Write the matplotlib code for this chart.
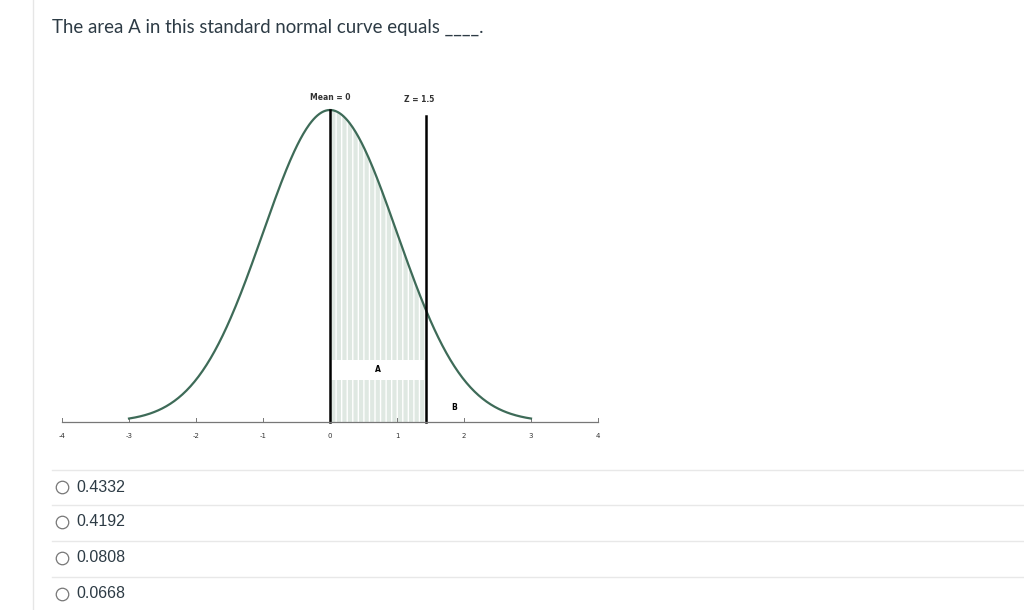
import numpy as np
import matplotlib.pyplot as plt
from matplotlib.patches import Rectangle

title = "The area A in this standard normal curve equals ____."
options = ["0.4332", "0.4192", "0.0808", "0.0668"]
tick_vals = [-4, -3, -2, -1, 0, 1, 2, 3, 4]
mean = 0.0
z_line = 1.43          # where the z = 1.5 line is drawn in the picture
curve_lo, curve_hi = -3.0, 3.0

fig = plt.figure(figsize=(10.24, 6.1), dpi=100)
W, H = 1024, 610

def fx(px): return px / W
def fy(py): return 1 - py / H

# page decoration
fig.add_artist(plt.Line2D([fx(33), fx(33)], [0, 1], color="#e6e6e6", lw=1))
fig.text(fx(52), fy(27), title, fontsize=13.4, family="Lato", color="#2d3b45", va="center")

opt_y = [487, 522, 558, 594]
for lab, y in zip(options, opt_y):
    fig.add_artist(plt.Line2D([fx(52), 1], [fy(y - 17), fy(y - 17)], color="#e8e8e8", lw=1))
    fig.add_artist(plt.Line2D([fx(62)], [fy(y)], marker="o", ms=9, mfc="white",
                              mec="#777777", mew=0.9, ls="none"))
    fig.text(fx(76), fy(y), lab, fontsize=11.5, family="Liberation Sans", color="#2d3b45", va="center")

# chart axes: x -4 at px 62, 4 at px 598; y 0 at px 422, peak(1) at px 110
left, right = fx(62), fx(598)
bottom = fy(422)
ax = fig.add_axes([left, bottom, right - left, 340 / H])
ax.set_xlim(-4, 4)
ax.set_ylim(0, 340 / 312)
ax.axis("off")

x = np.linspace(curve_lo, curve_hi, 400)
y = np.exp(-0.5 * (x - mean) ** 2)
ax.plot(x, y, color="#3e6b58", lw=1.6, zorder=3)

xs = np.linspace(mean, z_line, 200)
ys = np.exp(-0.5 * (xs - mean) ** 2)
ax.fill_between(xs, 0, ys, facecolor="#dfe8e2", edgecolor="#ffffff", hatch="|||", lw=0, zorder=1)
ax.add_patch(Rectangle((mean, 0.135), z_line - mean - 0.03, 0.065, fc="white", ec="none", zorder=2))
ax.text((mean + z_line) / 2, 0.167, "A", fontsize=5.5, fontweight="bold", ha="center", va="center", zorder=4)
ax.text(1.85, 0.045, "B", fontsize=5.5, fontweight="bold", ha="center", va="center")

ax.plot([mean, mean], [0, 1.0], color="black", lw=1.8, zorder=4, clip_on=False)
ax.plot([z_line, z_line], [0, 0.98], color="black", lw=1.8, zorder=4, clip_on=False)
ax.text(mean, 1.025, "Mean = 0", fontsize=5.5, fontweight="bold", ha="center", va="bottom", color="#333333")
ax.text(z_line - 0.1, 1.02, "Z = 1.5", fontsize=5.5, fontweight="bold", ha="center", va="bottom", color="#333333")

ax.plot([-4, 4], [0, 0], color="#777777", lw=0.9, clip_on=False, zorder=5)
for t in tick_vals:
    ax.plot([t, t], [0, 0.012], color="#777777", lw=0.7, clip_on=False)
    ax.text(t, -0.045, str(t), fontsize=5, ha="center", va="center", color="#333333", clip_on=False)

fig.savefig("out.png", dpi=100)
